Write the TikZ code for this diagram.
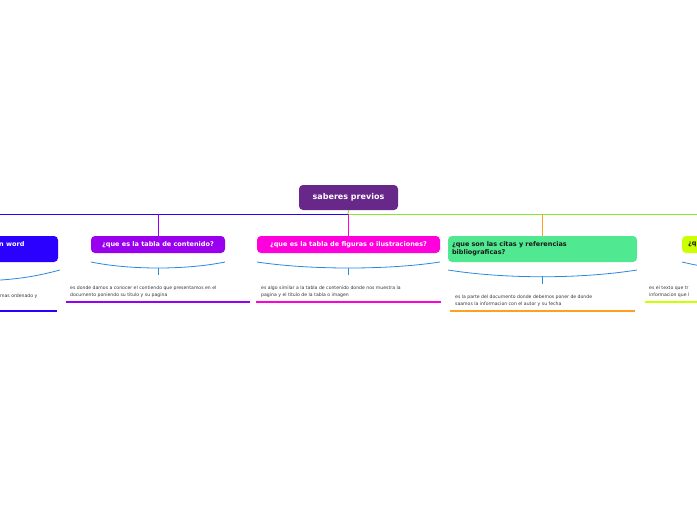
\documentclass[tikz,border=0pt]{standalone}
\usepackage{fontspec}
\setmainfont{DejaVu Sans}
\definecolor{root}{HTML}{68288A}
\definecolor{cblue}{HTML}{2B00FF}
\definecolor{cpur}{HTML}{9900EE}
\definecolor{cmag}{HTML}{FF00DD}
\definecolor{cgrn}{HTML}{50E890}
\definecolor{cyel}{HTML}{CCFF00}
\definecolor{corg}{HTML}{FFA020}
\definecolor{cbr}{HTML}{2A88E0}
\definecolor{cline}{HTML}{88E830}
\tikzset{x=1pt,y=-1pt,
 topic/.style={rounded corners=4pt,inner sep=0pt,font=\bfseries\fontsize{6.5}{8}\selectfont,text=white,align=left},
 body/.style={font=\fontsize{4.6}{7.4}\selectfont,text=black!80,align=left,anchor=north west,inner sep=0pt},
 brace/.style={cbr,line width=0.8pt},
 uline/.style={line width=2.2pt}}
\begin{document}
\begin{tikzpicture}
\useasboundingbox (0,0) rectangle (697,520);
\clip (0,0) rectangle (697,520);
% root
\node[topic,fill=root,minimum width=99pt,minimum height=25pt,align=center,font=\bfseries\fontsize{8}{10}\selectfont] (root) at (348.5,197.5) {saberes previos};
% trunk lines
\draw[cblue,line width=1pt] (0,214) -- (348,214);
\draw[cline,line width=1pt] (348,214) -- (697,214);
\draw[cline,line width=1pt] (root.south) -- (348,214);
\draw[cpur,line width=0.8pt] (158,214) -- (158,236);
\draw[cmag,line width=0.8pt] (348,214) -- (348,236);
\draw[corg,line width=0.8pt] (542,214) -- (542,236);
% blue node
\fill[cblue,rounded corners=4pt] (-60,236) rectangle (58,262);
\node[topic,anchor=west] (t1) at (-1,244) {n word};
\draw[brace] (60,270) .. controls (30,278) and (10,280) .. (-20,281);
\node[body] (b1) at (0,294) {mas ordenado y};
\draw[uline,cblue] (-10,311) -- (57,311);
% purple node
\node[topic,fill=cpur,minimum width=134pt,minimum height=17pt,align=center] (t2) at (158,244.5) {¿que es la tabla de contenido?};
\draw[brace] (91,262) .. controls (130,270) and (186,270) .. (225,262);
\draw[brace] (158,268) -- (158,275);
\node[body] (b2) at (70,285.5) {es donde damos a conocer el contiendo que presentamos en el\\documento poniendo su titulo y su pagina};
\draw[uline,cpur] (66,302) -- (250,302);
% magenta node
\node[topic,fill=cmag,minimum width=183pt,minimum height=17pt,align=center] (t3) at (348.5,244.5) {¿que es la tabla de figuras o ilustraciones?};
\draw[brace] (257,262) .. controls (310,270) and (388,270) .. (440,262);
\draw[brace] (348,268) -- (348,275);
\node[body] (b3) at (261,285.5) {es algo similar a la tabla de contenido donde nos muestra la\\pagina y el titulo de la tabla o imagen};
\draw[uline,cmag] (256,302) -- (441,302);
% green node
\node[topic,fill=cgrn,text=black!90,minimum width=189pt,minimum height=26pt,text width=181pt] (t4) at (542.5,249) {¿que son las citas y referencias\\bibliograficas?};
\draw[brace] (448,270) .. controls (505,279) and (580,279) .. (637,270);
\draw[brace] (542,276) -- (542,284);
\node[body] (b4) at (455,294.5) {es la parte del documento donde debemos poner de donde\\saamos la informacion con el autor y su fecha};
\draw[uline,corg] (450,311) -- (635,311);
% yellow node
\fill[cyel,rounded corners=4pt] (682,236) rectangle (760,253);
\node[topic,text=black!90,anchor=west] (t5) at (688,244.5) {¿q};
\draw[brace] (682,262) .. controls (695,265) and (700,266) .. (710,267);
\node[body] (b5) at (649,285.5) {es el texto que tr\\informacion que l};
\draw[uline,cyel] (645,302) -- (700,302);
\end{tikzpicture}
\end{document}
